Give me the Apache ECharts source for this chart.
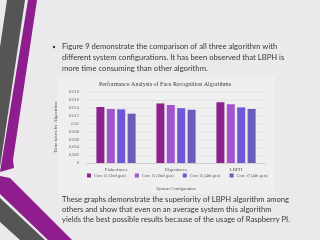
<!DOCTYPE html>
<html><head><meta charset="utf-8">
<script src="https://cdn.jsdelivr.net/npm/echarts@6/dist/echarts.min.js"></script>
<style>html,body{margin:0;padding:0;background:#ebe9eb;}#c{width:320px;height:240px;}</style>
</head><body><div id="c"></div>
<script>
const categories = ['Fisherfaces', 'Eigenfaces', 'LBPH'];
const seriesNames = ['Core i3 (2nd gen)', 'Core i5 (2nd gen)', 'Core i5 (4th gen)', 'Core i7 (4th gen)'];
const coreI3_2nd = [0.0142, 0.0151, 0.0154];
const coreI5_2nd = [0.0137, 0.0147, 0.0149];
const coreI5_4th = [0.0136, 0.0139, 0.0141];
const coreI7_4th = [0.0125, 0.0135, 0.0137];
const yTicks = { min: 0, max: 0.018, interval: 0.002 };
const topText = ['Figure 9 demonstrate the comparison of all three algorithm with',
  'different system configurations. It has been observed that LBPH is',
  'more time consuming than other algorithm.'];
const bottomText = ['These graphs demonstrate the superiority of LBPH algorithm among',
  'others and show that even on an average system this algorithm',
  'yields the best possible results because of the usage of Raspberry PI.'];

const colors = ['#8b238f', '#a055cf', '#7157d6', '#6a5cb8'];
const serif = 'Liberation Serif';
const sans = 'Lato';
const chart = echarts.init(document.getElementById('c'), null, {renderer: 'canvas'});
const values = [coreI3_2nd, coreI5_2nd, coreI5_4th, coreI7_4th];

const graphics = [
  {type: 'rect', shape: {x: 57, y: 77, width: 218, height: 116}, style: {fill: '#f0eff0'}, z: -10},
  {type: 'polygon', shape: {points: [[7,0],[25,0],[0,167],[0,47]]}, style: {fill: '#555555'}},
  {type: 'polygon', shape: {points: [[28,0],[37,0],[13,160],[14,168],[0,172]]}, style: {fill: '#8e1e8e'}},
  {type: 'polygon', shape: {points: [[0,176],[10,178],[72,240],[48,240],[0,194]]}, style: {fill: '#8e1e8e'}},
  {type: 'polygon', shape: {points: [[0,198],[45,240],[20,240],[0,222]]}, style: {fill: '#555555'}},
  {type: 'circle', shape: {cx: 54, cy: 47, r: 1.2}, style: {fill: '#333'}}
];
topText.forEach((t, i) => graphics.push({type: 'text', left: 62, top: 43 + i * 11,
  style: {text: t, font: '7.7px ' + sans, fill: '#3a3a3a'}}));
bottomText.forEach((t, i) => graphics.push({type: 'text', left: 62, top: 196 + i * 10,
  style: {text: t, font: '7.6px ' + sans, fill: '#3a3a3a'}}));

chart.setOption({
  animation: false,
  color: colors,
  title: {text: 'Performance Analysis of Face Recognition Algorithms', left: 165, textAlign: 'center', top: 81, padding: 0,
    textStyle: {fontFamily: serif, fontSize: 6, fontWeight: 'normal', color: '#404040'}},
  legend: {data: seriesNames, left: 87, top: 173, padding: 0, itemWidth: 4, itemHeight: 4, itemGap: 9,
    icon: 'rect', textStyle: {fontFamily: serif, fontSize: 4.5, color: '#555', padding: [0,0,0,-2]}},
  grid: {left: 86, right: 54, top: 92, bottom: 77},
  xAxis: {type: 'category', data: categories, name: 'System Configuration', nameLocation: 'middle', nameGap: 23,
    nameTextStyle: {fontFamily: serif, fontSize: 4.5, color: '#555'},
    axisLine: {lineStyle: {color: '#d0d0d0'}}, axisTick: {show: false},
    axisLabel: {fontFamily: serif, fontSize: 5, color: '#555', margin: 4}},
  yAxis: {type: 'value', min: yTicks.min, max: yTicks.max, interval: yTicks.interval,
    name: 'Time taken by Algorithm', nameLocation: 'middle', nameGap: 20,
    nameTextStyle: {fontFamily: serif, fontSize: 5, color: '#555'},
    axisLabel: {fontFamily: serif, fontSize: 4.5, color: '#666', margin: 7,
      formatter: v => String(parseFloat(v.toFixed(3)))},
    splitLine: {lineStyle: {color: '#dedede', width: 0.6}}},
  series: seriesNames.map((n, i) => ({name: n, type: 'bar', data: values[i], barWidth: 8, barGap: '30%'})),
  graphic: graphics
});
</script></body></html>
